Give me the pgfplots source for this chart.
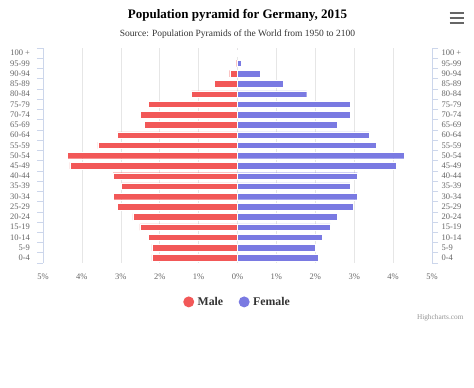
\documentclass[border=0pt]{standalone}
\usepackage{pgfplots}
\pgfplotsset{compat=1.18}
\usepackage{fontspec}
\setmainfont{Liberation Serif}
\definecolor{male}{RGB}{242,88,88}
\definecolor{female}{RGB}{122,122,226}
\definecolor{axline}{RGB}{204,214,235}
\definecolor{gridc}{RGB}{230,230,230}
\definecolor{lbl}{RGB}{102,102,102}
\definecolor{ttl}{RGB}{51,51,51}
\begin{document}
\begin{tikzpicture}[x=1pt,y=1pt]
\useasboundingbox (0,0) rectangle (474,388);
\pgfplotsset{pyr/.style={
  scale only axis, width=389pt, height=215pt,
  at={(43pt,125pt)}, anchor=south west,
  xmin=-5, xmax=5, ymin=-0.5, ymax=20.5,
  ytick={0,...,20},
  yticklabels={0-4,5-9,10-14,15-19,20-24,25-29,30-34,35-39,40-44,45-49,50-54,55-59,60-64,65-69,70-74,75-79,80-84,85-89,90-94,95-99,100 +},
  minor ytick={-0.5,0.5,...,20.5},
  major tick length=0pt, minor tick length=6pt,
  tick align=outside,
  every tick/.style={draw=axline, line width=0.6pt},
  y axis line style={draw=axline, line width=0.6pt},
  /pgf/number format/assume math mode=true,
}}
\begin{axis}[pyr,
  axis y line*=left, axis x line*=bottom,
  x axis line style={draw=none},
  xtick={-5,...,5},
  xticklabels={5\%,4\%,3\%,2\%,1\%,0\%,1\%,2\%,3\%,4\%,5\%},
  xmajorgrids, major grid style={draw=gridc, line width=0.6pt},
  xticklabel style={font=\fontsize{8.5}{10}\selectfont, text=lbl, yshift=-7pt},
  yticklabel style={font=\fontsize{8.5}{10}\selectfont, text=lbl, xshift=-9.5pt},
  legend style={at={(0.5,-0.181)}, anchor=center, draw=none, fill=none,
    legend columns=2, font=\bfseries\fontsize{11.8}{13}\selectfont, text=ttl,
    /tikz/every even column/.append style={column sep=13.5pt}},
  legend image code/.code={\fill[#1, draw=none] (0pt,0pt) circle (5.5pt); \path (6.7pt,0pt);},
]
\addplot[xbar, bar width=6.5pt, bar shift=0pt, fill=male, draw=white, line width=0.4pt]
coordinates {(-2.20,0) (-2.20,1) (-2.30,2) (-2.51,3) (-2.69,4) (-3.09,5) (-3.20,6) (-2.98,7) (-3.20,8) (-4.31,9) (-4.38,10) (-3.59,11) (-3.09,12) (-2.40,13) (-2.50,14) (-2.29,15) (-1.18,16) (-0.60,17) (-0.20,18) (-0.02,19) (0.00,20)};
\addlegendentry{Male}
\addplot[xbar, bar width=6.5pt, bar shift=0pt, fill=female, draw=white, line width=0.4pt]
coordinates {(2.07,0) (1.99,1) (2.17,2) (2.39,3) (2.57,4) (2.97,5) (3.08,6) (2.89,7) (3.08,8) (4.09,9) (4.29,10) (3.57,11) (3.39,12) (2.57,13) (2.89,14) (2.89,15) (1.78,16) (1.17,17) (0.59,18) (0.10,19) (0.01,20)};
\addlegendentry{Female}
\end{axis}
\begin{axis}[pyr,
  axis y line*=right, axis x line=none,
  yticklabel pos=right,
  yticklabel style={font=\fontsize{8.5}{10}\selectfont, text=lbl, xshift=6pt},
]
\end{axis}
\node[font=\bfseries\fontsize{13}{16}\selectfont, text=black] at (237.5,373) {Population pyramid for Germany, 2015};
\node[font=\fontsize{9.5}{11}\selectfont, text=ttl] at (237.5,354) {Source: Population Pyramids of the World from 1950 to 2100};
\node[font=\fontsize{7.3}{8}\selectfont, text=lbl!70, anchor=east] at (467,70) {Highcharts.com};
\draw[line width=2pt, color=lbl] (449.5,374.7)--(463.5,374.7) (449.5,369.7)--(463.5,369.7) (449.5,364.9)--(463.5,364.9);
\end{tikzpicture}
\end{document}
